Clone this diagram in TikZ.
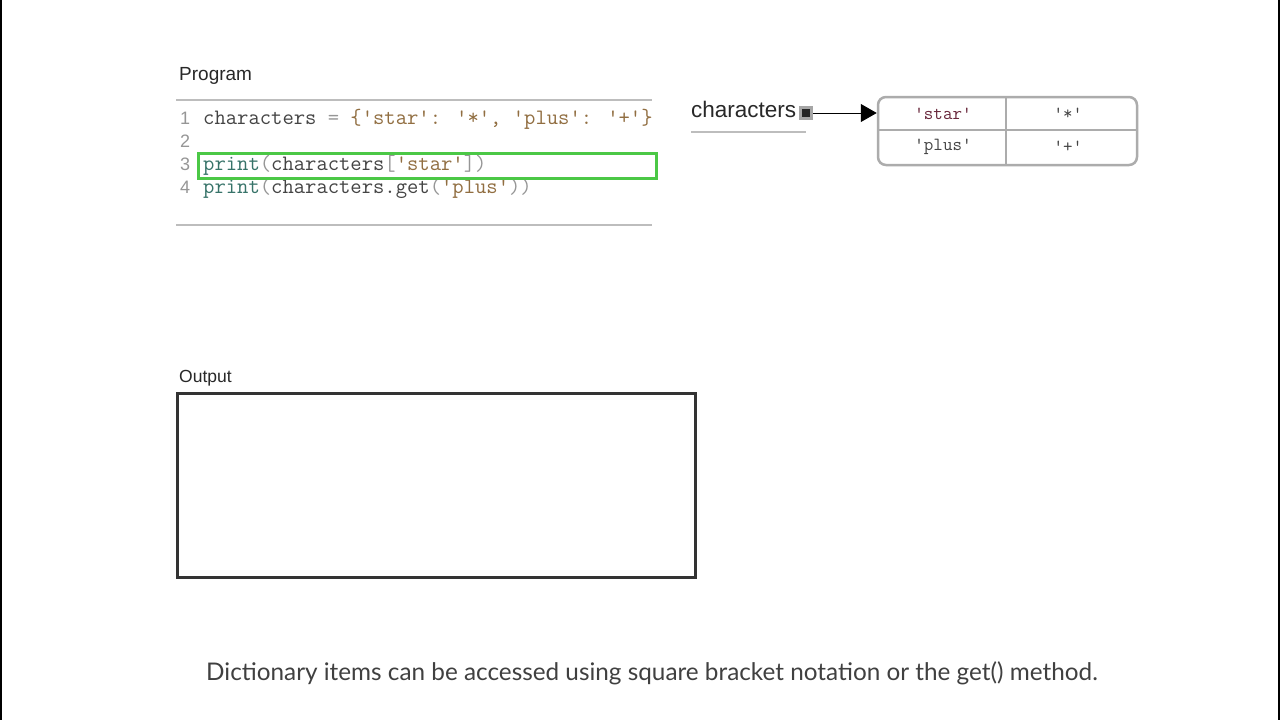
\documentclass[tikz,border=0pt]{standalone}
\usepackage{fontspec}
\setmainfont{Liberation Sans}
\newfontfamily\capfont{Lato}
\usetikzlibrary{arrows.meta,positioning}
\definecolor{CodeDark}{RGB}{68,68,68}
\definecolor{CodeGray}{RGB}{150,150,150}
\definecolor{CodeStr}{RGB}{145,110,65}
\definecolor{CodeKey}{RGB}{55,115,105}
\definecolor{HiGreen}{RGB}{75,200,70}
\definecolor{FrameGray}{RGB}{172,172,172}
\definecolor{StarRed}{RGB}{105,40,60}
\definecolor{LabelGray}{RGB}{40,40,40}
\tikzset{
  panellabel/.style={anchor=base west,inner sep=0pt,text=LabelGray,
    font=\fontsize{17.5}{20}\selectfont},
  lineno/.style={anchor=base west,inner sep=0pt,text=CodeGray,
    font=\fontsize{18}{20}\selectfont},
  codeline/.style={anchor=base west,inner sep=0pt,text=CodeDark,
    font=\ttfamily\fontsize{22}{24}\selectfont},
  rule/.style={draw=FrameGray!80,line width=1.5pt},
  cell/.style={inner sep=0pt,text=CodeDark,
    font=\ttfamily\fontsize{18.5}{20}\selectfont},
  ptrarrow/.style={-{Triangle[length=16pt,width=18pt]},line width=1pt,draw=black},
}
\newcommand{\cg}[1]{\textcolor{CodeGray}{#1}}
\newcommand{\cs}[1]{\textcolor{CodeStr}{#1}}
\newcommand{\ck}[1]{\textcolor{CodeKey}{#1}}

\begin{document}
\begin{tikzpicture}[x=1pt,y=-1pt]
  \useasboundingbox (0,0) rectangle (1280,720);
  \fill[white] (0,0) rectangle (1280,720);
  \fill[black] (0,0) rectangle (2,720);
  \fill[black] (1278,0) rectangle (1280,720);

  % program panel
  \node[panellabel,font=\fontsize{19}{22}\selectfont] (prog) at (179,80) {Program};
  \draw[rule] (176,100) -- (652,100);
  \draw[rule] (176,225) -- (652,225);
  \foreach \n/\y in {1/124,2/147,3/170,4/193}
    \node[lineno] (ln\n) at (180,\y) {\n};
  \node[codeline] (code1) at (203,124) {characters \cg{=} \cs{\{'star': '*', 'plus': '+'\}}};
  \node[codeline] (code3) at (203,170) {\ck{print}\cg{(}characters\cg{[}\cs{'star'}\cg{])}};
  \node[codeline] (code4) at (203,193) {\ck{print}\cg{(}characters.get\cg{(}\cs{'plus'}\cg{))}};
  \node[draw=HiGreen,line width=3pt,minimum width=458pt,minimum height=25pt,
    inner sep=0pt] (hl) at (427,165.5) {};

  % variable and dictionary
  \node[anchor=base west,inner sep=0pt,text=LabelGray,
    font=\fontsize{22.5}{24}\selectfont] (var) at (691,117) {characters};
  \draw[rule] (691,132) -- (806,132);
  \node[fill=gray!70,minimum size=14pt,inner sep=0pt] (ptr) at (806,113) {};
  \fill[black!85] (ptr.center) ++(-4,-4) rectangle ++(8,8);
  \node[draw=FrameGray,line width=2.5pt,rounded corners=8pt,minimum width=259pt,
    minimum height=68pt,inner sep=0pt] (tbl) at (1007.5,131) {};
  \draw[FrameGray,line width=2.5pt] (1006,97) -- (1006,165);
  \draw[FrameGray,line width=2.5pt] (878,130) -- (1137,130);
  \node[cell,text=StarRed] (k1) at (943,114) {'star'};
  \node[cell] (v1) at (1068,114) {'*'};
  \node[cell] (k2) at (943,147) {'plus'};
  \node[cell] (v2) at (1068,147) {'+'};
  \draw[ptrarrow] (ptr.east) -- (ptr.east -| tbl.west);

  % output panel
  \node[panellabel] (outlbl) at (179,382) {Output};
  \node[draw=black!80,line width=3pt,minimum width=518pt,minimum height=184pt,
    inner sep=0pt] (outbox) at (436,485) {};

  \node[anchor=base,inner sep=0pt,text=black!75,
    font=\capfont\fontsize{24.3}{27}\selectfont] (cap) at (652,680)
    {Dictionary items can be accessed using square bracket notation or the get() method.};
\end{tikzpicture}
\end{document}
